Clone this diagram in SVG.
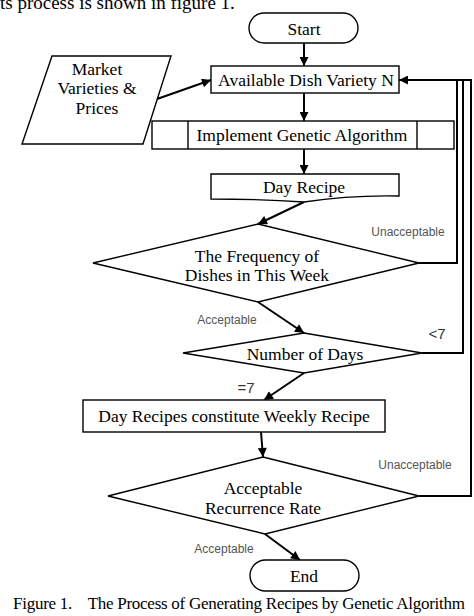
<svg xmlns="http://www.w3.org/2000/svg" width="474" height="616" viewBox="0 0 474 616">
<defs>
<marker id="ah" viewBox="0 0 10 10" refX="10" refY="5" markerWidth="10" markerHeight="9" markerUnits="userSpaceOnUse" orient="auto">
<path d="M0,0 L10,5 L0,10 z" fill="#000"/>
</marker>
</defs>
<style>
.n{fill:#fff;stroke:#000;stroke-width:1.4}
.t{font-family:"Liberation Serif","Times New Roman",serif;font-size:17.5px;fill:#000;text-anchor:middle}
.l{font-family:"Liberation Sans",Arial,sans-serif;font-size:12px;fill:#555;text-anchor:middle}
.s{font-family:"Liberation Sans",Arial,sans-serif;font-size:15px;fill:#333;text-anchor:middle}
.c{fill:none;stroke:#000;stroke-width:2}
.a{fill:none;stroke:#000;stroke-width:2;marker-end:url(#ah)}
</style>
<rect width="474" height="616" fill="#fff"/>
<text x="0" y="9" style="font-family:'Liberation Serif',serif;font-size:19px">ts process is shown in figure 1.</text>
<g id="connectors">
<path class="a" d="M304,43 L304,66"/>
<path class="a" d="M157,99 L211,80"/>
<path class="a" d="M304,93 L304,121"/>
<path class="a" d="M304,149 L304,174"/>
<path class="a" d="M304,202 L258,224"/>
<path class="a" d="M258,302 L304,333"/>
<path class="a" d="M304,373 L264,400"/>
<path class="a" d="M261,432 L263,457"/>
<path class="a" d="M265,534 L300,560"/>
<path class="c" d="M419,263 L457,263 L457,80"/>
<path class="c" d="M422,353 L463,353 L463,80"/>
<path class="c" d="M419,496 L471,496 L471,80"/>
<path class="a" d="M472,80 L399,80"/>
</g>
<g id="start"><rect class="n" x="249" y="13" width="109" height="30" rx="15"/><text class="t" x="304" y="35">Start</text></g>
<g id="market"><path class="n" d="M52,56 L171,56 L143,144 L22,144 z"/><text class="t" x="97" y="75">Market</text><text class="t" x="97" y="94">Varieties &amp;</text><text class="t" x="97" y="114">Prices</text></g>
<g id="available"><rect class="n" x="211" y="66" width="188" height="27"/><text class="t" x="306" y="86">Available Dish Variety N</text></g>
<g id="implement"><rect class="n" x="152" y="121" width="302" height="28"/><line class="n" x1="188" y1="121" x2="188" y2="149"/><line class="n" x1="417" y1="121" x2="417" y2="149"/><text class="t" x="302" y="141">Implement Genetic Algorithm</text></g>
<g id="dayrecipe"><path class="n" d="M211,174 L399,174 L399,196 Q350,195 304,202 Q260,199 211,199 z"/><text class="t" x="304" y="193">Day Recipe</text></g>
<g id="frequency"><path class="n" d="M258,224 L419,263 L258,302 L93,263 z"/><text class="t" x="257" y="262">The Frequency of</text><text class="t" x="257" y="281">Dishes in This Week</text></g>
<g id="days"><path class="n" d="M304,333 L422,353 L304,373 L183,353 z"/><text class="t" x="305" y="360">Number of Days</text></g>
<g id="weekly"><rect class="n" x="83" y="400" width="302" height="32"/><text class="t" x="234" y="422">Day Recipes constitute Weekly Recipe</text></g>
<g id="recurrence"><path class="n" d="M263,457 L419,496 L265,534 L108,496 z"/><text class="t" x="263" y="494">Acceptable</text><text class="t" x="263" y="514">Recurrence Rate</text></g>
<g id="end"><rect class="n" x="250" y="560" width="109" height="31" rx="15.5"/><text class="t" x="304" y="582">End</text></g>
<g id="labels">
<text class="l" x="408" y="236">Unacceptable</text>
<text class="l" x="227" y="324">Acceptable</text>
<text class="s" x="437" y="339">&lt;7</text>
<text class="s" x="246" y="393">=7</text>
<text class="l" x="415" y="469">Unacceptable</text>
<text class="l" x="224" y="553">Acceptable</text>
</g>
<text x="13" y="609" textLength="452" style="font-family:'Liberation Serif',serif;font-size:17px" xml:space="preserve">Figure 1.    The Process of Generating Recipes by Genetic Algorithm</text>
</svg>
